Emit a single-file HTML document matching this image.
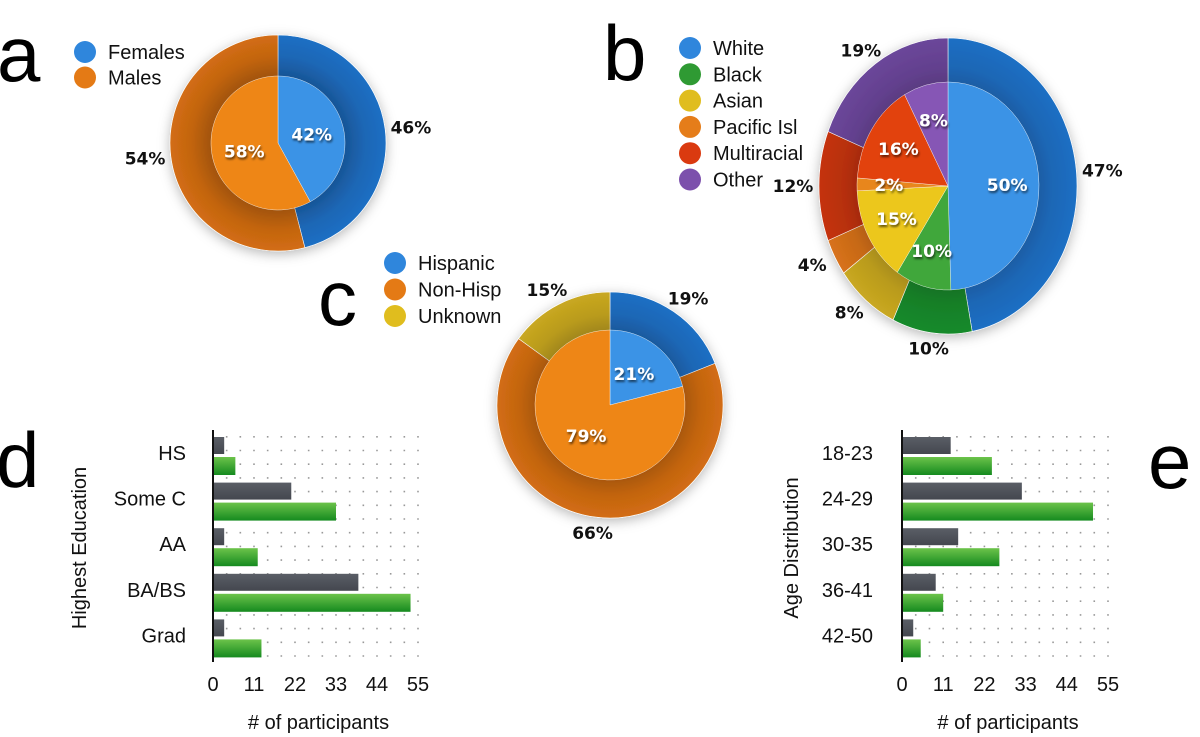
<!DOCTYPE html>
<html><head><meta charset="utf-8">
<style>
html,body{margin:0;padding:0;background:#fff;}
svg{display:block;font-family:"Liberation Sans",sans-serif;}
.lbl{font-family:"DejaVu Sans","Liberation Sans",sans-serif;font-weight:bold;font-size:17px;}
.leg{font-size:20px;fill:#111;}
.big{font-size:78px;fill:#000;}
.tick{font-size:20px;fill:#111;}
</style></head>
<body>
<svg id="chart" width="1200" height="737" viewBox="0 0 1200 737">
<defs>
<filter id="sh" x="-20%" y="-20%" width="140%" height="140%"><feDropShadow dx="0" dy="3" stdDeviation="6" flood-color="#000" flood-opacity="0.28"/></filter>
<filter id="ts" x="-20%" y="-20%" width="140%" height="140%"><feDropShadow dx="1" dy="2" stdDeviation="1" flood-color="#000" flood-opacity="0.6"/></filter>
<radialGradient id="ringShade" cx="50%" cy="50%" r="50%"><stop offset="0.6" stop-color="#000" stop-opacity="0.25"/><stop offset="0.8" stop-color="#000" stop-opacity="0.08"/><stop offset="1" stop-color="#000" stop-opacity="0"/></radialGradient>
<linearGradient id="grayG" x1="0" y1="0" x2="0" y2="1"><stop offset="0" stop-color="#5a5e66"/><stop offset="1" stop-color="#44474f"/></linearGradient>
<linearGradient id="greenG" x1="0" y1="0" x2="0" y2="1"><stop offset="0" stop-color="#6cc34a"/><stop offset="1" stop-color="#158a1f"/></linearGradient>
</defs>
<g id="root"></g>
</svg>
<script>
// ---- pie data ----
const genderCats = ["Females","Males"];
const genderOuter = [46,54];
const genderInner = [42,58];
const raceCats = ["White","Black","Asian","Pacific Isl","Multiracial","Other"];
const raceOuter = [47,10,8,4,12,19];
const raceInner = [50,10,15,2,16,8];
const ethCats = ["Hispanic","Non-Hisp","Unknown"];
const ethOuter = [19,66,15];
const ethInner = [21,79];
// ---- bar data ----
const eduCats = ["HS","Some C","AA","BA/BS","Grad"];
const eduGray = [3,21,3,39,3];
const eduGreen = [6,33,12,53,13];
const ageCats = ["18-23","24-29","30-35","36-41","42-50"];
const ageGray = [13,32,15,9,3];
const ageGreen = [24,51,26,11,5];
const xTicks = [0,11,22,33,44,55];

const NS="http://www.w3.org/2000/svg";
const root=document.getElementById('root');
function mk(tag,attrs,parent){const e=document.createElementNS(NS,tag);for(const k in attrs)e.setAttribute(k,attrs[k]);(parent||root).appendChild(e);return e;}
function txt(s,attrs,parent){const e=mk('text',attrs,parent);e.textContent=s;return e;}

const colors={
 blue:["#1f6fc4","#3b93e6"],orange:["#d36d12","#ee8617"],yellow:["#c9a820","#ecc71f"],
 green:["#168a2b","#3fa73a"],pac:["#d8721a","#e8861c"],red:["#c5330f","#e2420f"],purple:["#6b469a","#8656b5"]
};
const legColors={blue:"#2f86dc",orange:"#e47a15",yellow:"#e0bd1e",green:"#2f9a33",pac:"#e57d1a",red:"#da3a10",purple:"#7c50ac"};

function wedge(cx,cy,rx,ry,a0,a1){
  const p=a=>[cx+rx*Math.sin(a),cy-ry*Math.cos(a)];
  const [x0,y0]=p(a0),[x1,y1]=p(a1);const large=(a1-a0)>Math.PI?1:0;
  return `M${cx},${cy} L${x0},${y0} A${rx},${ry} 0 ${large} 1 ${x1},${y1} Z`;
}
function pie(name,cx,cy,rx,ry,irx,iry,outer,inner,outCols,inCols,innerLblR){
  const g=mk('g',{filter:'url(#sh)'});
  
  
  const tot=outer.reduce((a,b)=>a+b,0);let acc=0;
  outer.forEach((v,i)=>{const a0=acc/tot*2*Math.PI;acc+=v;const a1=acc/tot*2*Math.PI;
    const p=mk('path',{d:wedge(cx,cy,rx,ry,a0,a1),fill:colors[outCols[i]][0],stroke:'#fff','stroke-width':0.6},g);
    
    
    const m=(a0+a1)/2,s=Math.sin(m),c=Math.cos(m);
    const t=txt(v+'%',{x:cx+s*(rx+8)+s*18,y:cy-c*(ry+8)-c*8+6,'text-anchor':'middle',class:'lbl',fill:'#111'});
    
    
  });
  mk('ellipse',{cx:cx,cy:cy,rx:rx,ry:ry,fill:'url(#ringShade)'},g);
  const tot2=inner.reduce((a,b)=>a+b,0);acc=0;
  inner.forEach((v,i)=>{const a0=acc/tot2*2*Math.PI;acc+=v;const a1=acc/tot2*2*Math.PI;
    const p=mk('path',{d:wedge(cx,cy,irx,iry,a0,a1),fill:colors[inCols[i]][1],stroke:'#fff','stroke-width':0.4},g);
    
    
  });
  acc=0;
  inner.forEach((v,i)=>{const a0=acc/tot2*2*Math.PI;acc+=v;const a1=acc/tot2*2*Math.PI;const m=(a0+a1)/2;
    const t=txt(v+'%',{x:cx+Math.sin(m)*irx*innerLblR,y:cy-Math.cos(m)*iry*innerLblR+6,'text-anchor':'middle',class:'lbl',fill:'#fff',filter:'url(#ts)'});
    
    
  });
}
function legend(name,x,y0,step,cats,cols){
  const g=mk('g',{});
  
  
  cats.forEach((c,i)=>{const y=y0+i*step;
    const ci=mk('circle',{cx:x,cy:y,r:11,fill:legColors[cols[i]]},g);
    
    
    const t=txt(c,{x:x+23,y:y+7,class:'leg'},g);
    
    
  });
}
function letter(s,x,y){const t=txt(s,{x:x,y:y,class:'big'});}

// Panel a
letter('a',-3,81);
legend('gender-legend',85,52,25.5,genderCats,['blue','orange']);
pie('gender-pie',278,143,108,108,67,67,genderOuter,genderInner,['blue','orange'],['blue','orange'],0.52);
// Panel b
letter('b',603,80);
legend('race-legend',690,48,26.3,raceCats,['blue','green','yellow','pac','red','purple']);
const rc=['blue','green','yellow','pac','red','purple'];
pie('race-pie',948,186,129,148,91,104,raceOuter,raceInner,rc,rc,0.65);
// Panel c
letter('c',318,325);
legend('ethnicity-legend',395,263,26.5,ethCats,['blue','orange','yellow']);
pie('ethnicity-pie',610,405,113,113,75,75,ethOuter,ethInner,['blue','orange','yellow'],['blue','orange'],0.52);

// Bar charts
function bars(name,x0,x1,top,bottom,cats,gray,green,yTitle,yTitleX,lblX){
  const g=mk('g',{});
  
  
  const maxV=xTicks[xTicks.length-1];
  const sx=v=>x0+v/maxV*(x1-x0);
  // grid
  for(let k=1;k<=15;k++){const gx=sx(k*maxV/15);
    const l=mk('line',{x1:gx,x2:gx,y1:top+4,y2:bottom-2,stroke:'#999','stroke-width':1.6,'stroke-dasharray':'1.6 12.1'},g);
    
    }
  const pitch=(bottom-top)/cats.length;
  cats.forEach((c,i)=>{const gy=top+5+i*pitch;
    const b1=mk('rect',{x:x0,y:gy,width:sx(gray[i])-x0,height:17,fill:'url(#grayG)'},g);
    
    
    const b2=mk('rect',{x:x0,y:gy+20,width:sx(green[i])-x0,height:18,fill:'url(#greenG)'},g);
    
    
    const t=txt(c,{x:lblX,y:gy+23,'text-anchor':'end',class:'tick'},g);
    
    
  });
  const ax=mk('line',{x1:x0,x2:x0,y1:top-2,y2:bottom+2,stroke:'#111','stroke-width':2},g);
  
  
  xTicks.forEach(v=>{const t=txt(String(v),{x:sx(v),y:691,'text-anchor':'middle',class:'tick'},g);
    
    });
  const xt=txt('# of participants',{x:(x0+x1)/2+3,y:729,'text-anchor':'middle',class:'tick'},g);
  
  
  const yt=txt(yTitle,{x:0,y:0,'text-anchor':'middle',class:'tick',transform:`translate(${yTitleX},${(top+bottom)/2+2}) rotate(-90)`},g);
  
  
}
letter('d',-4,487);
bars('education-bar-chart',213,418,432,660,eduCats,eduGray,eduGreen,'Highest Education',86,186);
bars('age-bar-chart',902,1108,432,660,ageCats,ageGray,ageGreen,'Age Distribution',798,873);
letter('e',1148,488);
</script>
</body></html>
